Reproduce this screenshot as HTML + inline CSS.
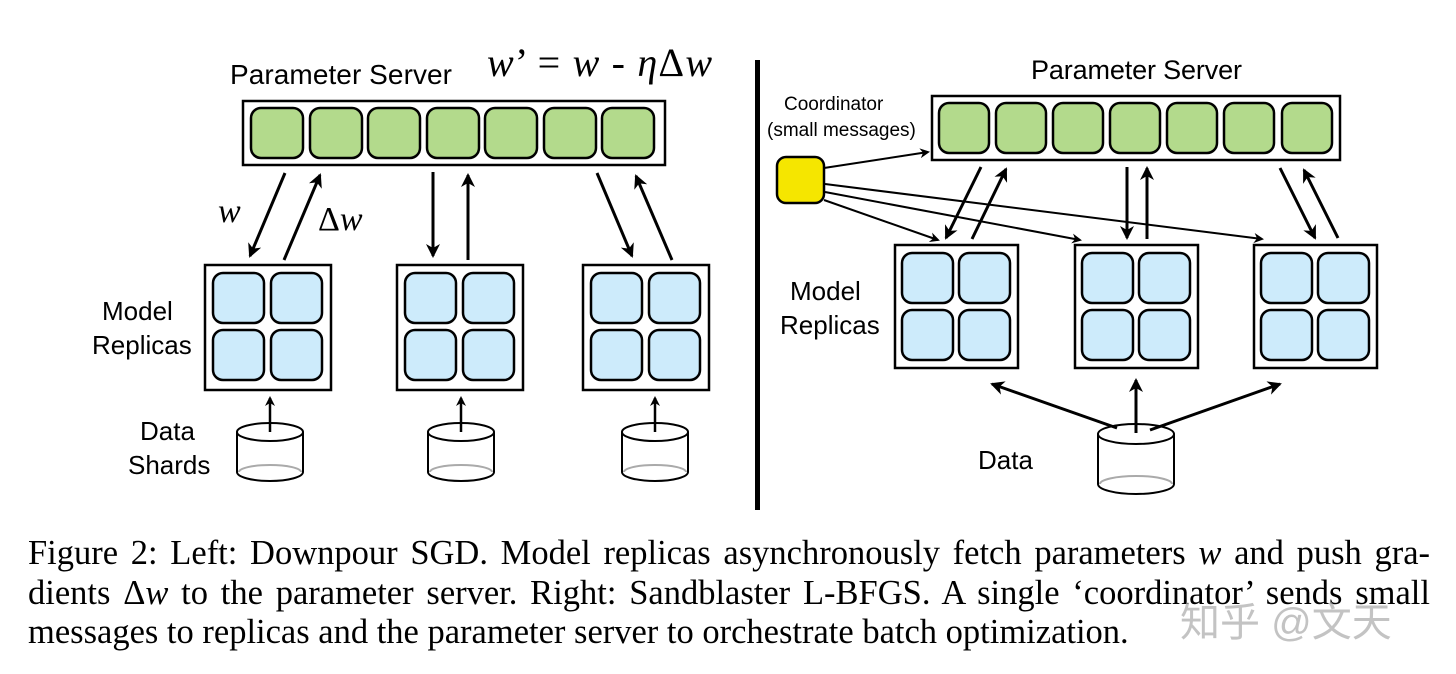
<!DOCTYPE html>
<html><head><meta charset="utf-8"><style>
body{margin:0;width:1456px;height:674px;background:#fff;overflow:hidden;position:relative}
svg{position:absolute;left:0;top:0}
.cap{position:absolute;left:28px;width:1402px;font-family:"Liberation Serif",serif;font-size:34.5px;line-height:40px;color:#000;white-space:nowrap}
.j{text-align:justify;text-align-last:justify}
.wm{position:absolute;left:1180px;top:590px;font-family:"Liberation Sans","Noto Sans CJK SC",sans-serif;font-size:40px;color:rgba(170,170,170,0.7)}
</style></head><body>
<svg width="1456" height="674" viewBox="0 0 1456 674" xmlns="http://www.w3.org/2000/svg">
<defs>
<marker id="a" markerWidth="10" markerHeight="10" refX="8" refY="5" orient="auto" markerUnits="userSpaceOnUse"><path d="M0,0 L10,5 L0,10 L3,5 z" fill="#000"/></marker>
<marker id="b" markerWidth="14" markerHeight="14" refX="12" refY="7" orient="auto" markerUnits="userSpaceOnUse"><path d="M0,0 L14,7 L0,14 L4,7 z" fill="#000"/></marker>
</defs>
<g font-family="Liberation Sans, sans-serif" fill="#000">
<text x="230" y="84" font-size="28" textLength="222">Parameter Server</text>
<text x="487" y="76" font-size="40" font-family="Liberation Serif, serif" textLength="225"><tspan font-style="italic">w</tspan>’ = <tspan font-style="italic">w</tspan> - <tspan font-style="italic">η</tspan>Δ<tspan font-style="italic">w</tspan></text>
<rect x="243" y="101" width="422" height="64" fill="#fff" stroke="#000" stroke-width="2.5"/>
<g fill="#b3da8c" stroke="#000" stroke-width="2.5">
<rect x="251" y="108" width="52" height="50" rx="10"/><rect x="310" y="108" width="52" height="50" rx="10"/><rect x="368" y="108" width="52" height="50" rx="10"/><rect x="427" y="108" width="52" height="50" rx="10"/><rect x="485" y="108" width="52" height="50" rx="10"/><rect x="544" y="108" width="52" height="50" rx="10"/><rect x="602" y="108" width="52" height="50" rx="10"/>
</g>
<text x="218" y="222" font-size="34" font-family="Liberation Serif, serif" font-style="italic">w</text>
<text x="318" y="230" font-size="34" font-family="Liberation Serif, serif"><tspan>Δ</tspan><tspan font-style="italic">w</tspan></text>
<g stroke="#000" stroke-width="3" marker-end="url(#b)">
<line x1="285" y1="173" x2="250" y2="256"/><line x1="284" y1="260" x2="320" y2="175"/>
<line x1="433" y1="172" x2="433" y2="256"/><line x1="468" y1="260" x2="468" y2="175"/>
<line x1="597" y1="173" x2="632" y2="256"/><line x1="672" y1="260" x2="636" y2="176"/>
</g>
<g id="rep">
<rect x="205" y="265" width="126" height="125" fill="#fff" stroke="#000" stroke-width="2.5"/>
<g fill="#cdebfb" stroke="#000" stroke-width="2.5">
<rect x="213" y="273" width="51" height="50" rx="10"/><rect x="271" y="273" width="51" height="50" rx="10"/><rect x="213" y="330" width="51" height="50" rx="10"/><rect x="271" y="330" width="51" height="50" rx="10"/>
</g></g>
<use href="#rep" x="192"/><use href="#rep" x="378"/>
<text x="102" y="320" font-size="26">Model</text>
<text x="92" y="354" font-size="26">Replicas</text>
<text x="140" y="440" font-size="26">Data</text>
<text x="128" y="474" font-size="26">Shards</text>
<g id="cyl">
<path d="M237,432 L237,472 A33,9 0 0 0 303,472 L303,432" fill="#fff" stroke="#000" stroke-width="2"/>
<path d="M239,472 A31,7 0 0 1 301,472" fill="none" stroke="#aaa" stroke-width="2"/>
<ellipse cx="270" cy="432" rx="33" ry="9" fill="#fff" stroke="#000" stroke-width="2"/>
<line x1="270" y1="432" x2="270" y2="398" stroke="#000" stroke-width="2.5" marker-end="url(#a)"/>
</g>
<use href="#cyl" x="191"/><use href="#cyl" x="385"/>
<rect x="755" y="60" width="5" height="450" fill="#000"/>
<text x="1031" y="79" font-size="27" textLength="211">Parameter Server</text>
<text x="784" y="110" font-size="19">Coordinator</text>
<text x="767" y="136" font-size="19">(small messages)</text>
<rect x="932" y="96" width="408" height="64" fill="#fff" stroke="#000" stroke-width="2.5"/>
<g fill="#b3da8c" stroke="#000" stroke-width="2.5">
<rect x="939" y="103" width="50" height="50" rx="10"/><rect x="996" y="103" width="50" height="50" rx="10"/><rect x="1053" y="103" width="50" height="50" rx="10"/><rect x="1110" y="103" width="50" height="50" rx="10"/><rect x="1167" y="103" width="50" height="50" rx="10"/><rect x="1224" y="103" width="50" height="50" rx="10"/><rect x="1282" y="103" width="50" height="50" rx="10"/>
</g>
<rect x="777" y="157" width="47" height="46" rx="9" fill="#f5e600" stroke="#000" stroke-width="2.5"/>
<g stroke="#000" stroke-width="2" marker-end="url(#a)">
<line x1="824" y1="168" x2="928" y2="152"/>
<line x1="825" y1="184" x2="1262" y2="239"/>
<line x1="825" y1="192" x2="1080" y2="240"/>
<line x1="824" y1="200" x2="938" y2="240"/>
</g>
<g stroke="#000" stroke-width="3" marker-end="url(#b)">
<line x1="981" y1="167" x2="946" y2="238"/><line x1="972" y1="239" x2="1006" y2="169"/>
<line x1="1127" y1="167" x2="1127" y2="238"/><line x1="1147" y1="239" x2="1147" y2="168"/>
<line x1="1280" y1="168" x2="1315" y2="238"/><line x1="1338" y1="238" x2="1304" y2="170"/>
</g>
<g id="rrep">
<rect x="895" y="245" width="123" height="123" fill="#fff" stroke="#000" stroke-width="2.5"/>
<g fill="#cdebfb" stroke="#000" stroke-width="2.5">
<rect x="902" y="253" width="51" height="50" rx="10"/><rect x="959" y="253" width="51" height="50" rx="10"/><rect x="902" y="310" width="51" height="50" rx="10"/><rect x="959" y="310" width="51" height="50" rx="10"/>
</g></g>
<use href="#rrep" x="180"/><use href="#rrep" x="359"/>
<text x="790" y="300" font-size="26">Model</text>
<text x="780" y="334" font-size="26">Replicas</text>
<text x="978" y="469" font-size="26">Data</text>
<path d="M1098,434 L1098,484 A38,10 0 0 0 1174,484 L1174,434" fill="#fff" stroke="#000" stroke-width="2"/>
<path d="M1100,484 A36,8 0 0 1 1172,484" fill="none" stroke="#aaa" stroke-width="2"/>
<ellipse cx="1136" cy="434" rx="38" ry="10" fill="#fff" stroke="#000" stroke-width="2"/>
<g stroke="#000" stroke-width="3" marker-end="url(#b)">
<line x1="1117" y1="428" x2="992" y2="384"/>
<line x1="1136" y1="433" x2="1136" y2="380"/>
<line x1="1150" y1="430" x2="1280" y2="384"/>
</g>
</g>
</svg>
<div class="cap j" style="top:533px">Figure 2: Left: Downpour SGD. Model replicas asynchronously fetch parameters <i>w</i> and push gra-</div>
<div class="cap j" style="top:573px">dients Δ<i>w</i> to the parameter server. Right: Sandblaster L-BFGS. A single ‘coordinator’ sends small</div>
<div class="cap" style="top:612px">messages to replicas and the parameter server to orchestrate batch optimization.</div>
<div class="wm">知乎 @文天</div>
</body></html>
